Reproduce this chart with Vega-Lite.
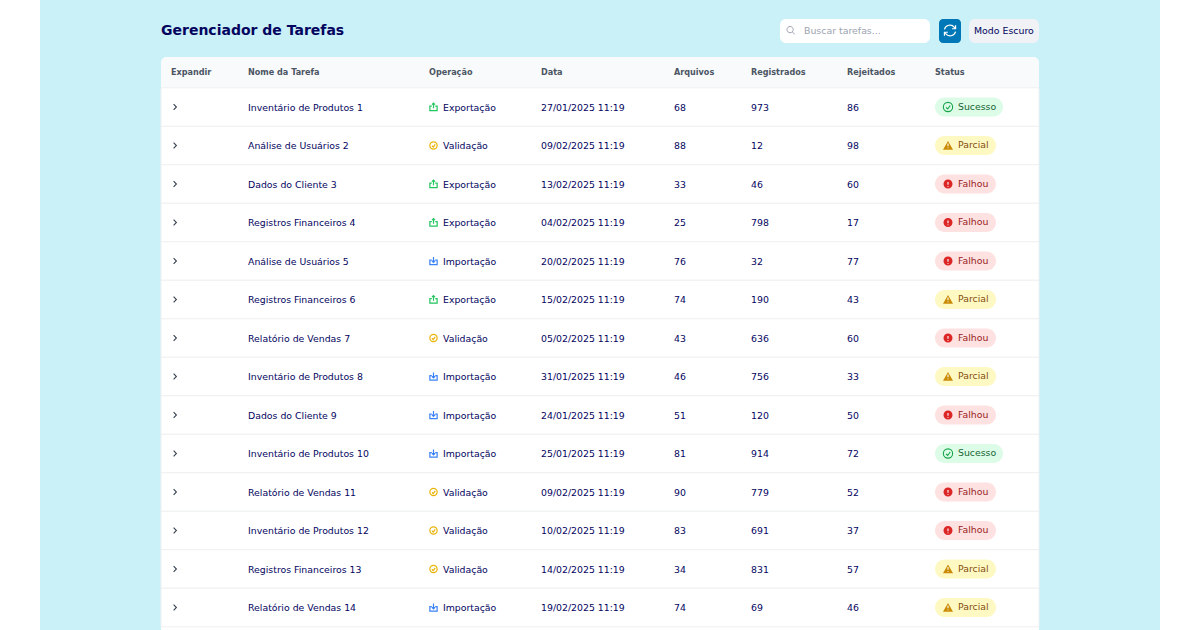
{
"$schema":"https://vega.github.io/schema/vega-lite/v6.json",
"width":1200,"height":630,"autosize":"none","padding":0,"background":"white",
"config":{"view":{"stroke":null},"font":"DejaVu Sans"},
"data":{"values":[
{"linha":0,"coluna":0.1,"texto":"Expandir"},{"linha":0,"coluna":1,"texto":"Nome da Tarefa"},{"linha":0,"coluna":2,"texto":"Operação"},{"linha":0,"coluna":3,"texto":"Data"},{"linha":0,"coluna":4,"texto":"Arquivos"},{"linha":0,"coluna":5,"texto":"Registrados"},{"linha":0,"coluna":6,"texto":"Rejeitados"},{"linha":0,"coluna":7,"texto":"Status"},
{"linha":1,"coluna":0},{"linha":1,"coluna":1,"texto":"Inventário de Produtos 1"},{"linha":1,"coluna":2,"texto":"Exportação"},{"linha":1,"coluna":3,"texto":"27/01/2025 11:19"},{"linha":1,"coluna":4,"texto":"68"},{"linha":1,"coluna":5,"texto":"973"},{"linha":1,"coluna":6,"texto":"86"},{"linha":1,"coluna":7,"texto":"Sucesso"},
{"linha":2,"coluna":0},{"linha":2,"coluna":1,"texto":"Análise de Usuários 2"},{"linha":2,"coluna":2,"texto":"Validação"},{"linha":2,"coluna":3,"texto":"09/02/2025 11:19"},{"linha":2,"coluna":4,"texto":"88"},{"linha":2,"coluna":5,"texto":"12"},{"linha":2,"coluna":6,"texto":"98"},{"linha":2,"coluna":7,"texto":"Parcial"},
{"linha":3,"coluna":0},{"linha":3,"coluna":1,"texto":"Dados do Cliente 3"},{"linha":3,"coluna":2,"texto":"Exportação"},{"linha":3,"coluna":3,"texto":"13/02/2025 11:19"},{"linha":3,"coluna":4,"texto":"33"},{"linha":3,"coluna":5,"texto":"46"},{"linha":3,"coluna":6,"texto":"60"},{"linha":3,"coluna":7,"texto":"Falhou"},
{"linha":4,"coluna":0},{"linha":4,"coluna":1,"texto":"Registros Financeiros 4"},{"linha":4,"coluna":2,"texto":"Exportação"},{"linha":4,"coluna":3,"texto":"04/02/2025 11:19"},{"linha":4,"coluna":4,"texto":"25"},{"linha":4,"coluna":5,"texto":"798"},{"linha":4,"coluna":6,"texto":"17"},{"linha":4,"coluna":7,"texto":"Falhou"},
{"linha":5,"coluna":0},{"linha":5,"coluna":1,"texto":"Análise de Usuários 5"},{"linha":5,"coluna":2,"texto":"Importação"},{"linha":5,"coluna":3,"texto":"20/02/2025 11:19"},{"linha":5,"coluna":4,"texto":"76"},{"linha":5,"coluna":5,"texto":"32"},{"linha":5,"coluna":6,"texto":"77"},{"linha":5,"coluna":7,"texto":"Falhou"},
{"linha":6,"coluna":0},{"linha":6,"coluna":1,"texto":"Registros Financeiros 6"},{"linha":6,"coluna":2,"texto":"Exportação"},{"linha":6,"coluna":3,"texto":"15/02/2025 11:19"},{"linha":6,"coluna":4,"texto":"74"},{"linha":6,"coluna":5,"texto":"190"},{"linha":6,"coluna":6,"texto":"43"},{"linha":6,"coluna":7,"texto":"Parcial"},
{"linha":7,"coluna":0},{"linha":7,"coluna":1,"texto":"Relatório de Vendas 7"},{"linha":7,"coluna":2,"texto":"Validação"},{"linha":7,"coluna":3,"texto":"05/02/2025 11:19"},{"linha":7,"coluna":4,"texto":"43"},{"linha":7,"coluna":5,"texto":"636"},{"linha":7,"coluna":6,"texto":"60"},{"linha":7,"coluna":7,"texto":"Falhou"},
{"linha":8,"coluna":0},{"linha":8,"coluna":1,"texto":"Inventário de Produtos 8"},{"linha":8,"coluna":2,"texto":"Importação"},{"linha":8,"coluna":3,"texto":"31/01/2025 11:19"},{"linha":8,"coluna":4,"texto":"46"},{"linha":8,"coluna":5,"texto":"756"},{"linha":8,"coluna":6,"texto":"33"},{"linha":8,"coluna":7,"texto":"Parcial"},
{"linha":9,"coluna":0},{"linha":9,"coluna":1,"texto":"Dados do Cliente 9"},{"linha":9,"coluna":2,"texto":"Importação"},{"linha":9,"coluna":3,"texto":"24/01/2025 11:19"},{"linha":9,"coluna":4,"texto":"51"},{"linha":9,"coluna":5,"texto":"120"},{"linha":9,"coluna":6,"texto":"50"},{"linha":9,"coluna":7,"texto":"Falhou"},
{"linha":10,"coluna":0},{"linha":10,"coluna":1,"texto":"Inventário de Produtos 10"},{"linha":10,"coluna":2,"texto":"Importação"},{"linha":10,"coluna":3,"texto":"25/01/2025 11:19"},{"linha":10,"coluna":4,"texto":"81"},{"linha":10,"coluna":5,"texto":"914"},{"linha":10,"coluna":6,"texto":"72"},{"linha":10,"coluna":7,"texto":"Sucesso"},
{"linha":11,"coluna":0},{"linha":11,"coluna":1,"texto":"Relatório de Vendas 11"},{"linha":11,"coluna":2,"texto":"Validação"},{"linha":11,"coluna":3,"texto":"09/02/2025 11:19"},{"linha":11,"coluna":4,"texto":"90"},{"linha":11,"coluna":5,"texto":"779"},{"linha":11,"coluna":6,"texto":"52"},{"linha":11,"coluna":7,"texto":"Falhou"},
{"linha":12,"coluna":0},{"linha":12,"coluna":1,"texto":"Inventário de Produtos 12"},{"linha":12,"coluna":2,"texto":"Validação"},{"linha":12,"coluna":3,"texto":"10/02/2025 11:19"},{"linha":12,"coluna":4,"texto":"83"},{"linha":12,"coluna":5,"texto":"691"},{"linha":12,"coluna":6,"texto":"37"},{"linha":12,"coluna":7,"texto":"Falhou"},
{"linha":13,"coluna":0},{"linha":13,"coluna":1,"texto":"Registros Financeiros 13"},{"linha":13,"coluna":2,"texto":"Validação"},{"linha":13,"coluna":3,"texto":"14/02/2025 11:19"},{"linha":13,"coluna":4,"texto":"34"},{"linha":13,"coluna":5,"texto":"831"},{"linha":13,"coluna":6,"texto":"57"},{"linha":13,"coluna":7,"texto":"Parcial"},
{"linha":14,"coluna":0},{"linha":14,"coluna":1,"texto":"Relatório de Vendas 14"},{"linha":14,"coluna":2,"texto":"Importação"},{"linha":14,"coluna":3,"texto":"19/02/2025 11:19"},{"linha":14,"coluna":4,"texto":"74"},{"linha":14,"coluna":5,"texto":"69"},{"linha":14,"coluna":6,"texto":"46"},{"linha":14,"coluna":7,"texto":"Parcial"}
]},
"encoding":{
"x":{"field":"coluna","type":"quantitative","axis":null,"scale":{"zero":false,"nice":false,"domain":[-1,0,0.1,1,2,3,4,5,5.3,6,6.9,7,7.05,7.3,7.4,7.6,7.7,8,9],"range":[40,161,171,248,429,541,674,751,780,847,930,935,939,961,969,996,1003,1039,1160]}},
"y":{"field":"linha","type":"quantitative","axis":null,"scale":{"zero":false,"nice":false,"domain":[-2,-1.5,-1,-0.5,-0.2,0,0.45,1,14,15],"range":[-6,19,30.5,43,57,72,88,107,607.5,646]}}
},
"resolve":{"scale":{"color":"independent","shape":"independent"}},
"layer":[
{"data":{"values":[{"coluna":-1,"linha":-2}]},"mark":{"type":"rect","fill":"#caf0f8"},"encoding":{"x2":{"datum":9},"y2":{"datum":15}}},
{"data":{"values":[{"coluna":0,"linha":-0.2}]},"mark":{"type":"rect","fill":"white","cornerRadiusTopLeft":6,"cornerRadiusTopRight":6},"encoding":{"x2":{"datum":8},"y2":{"datum":15}}},
{"data":{"values":[{"coluna":0,"linha":-0.2}]},"mark":{"type":"rect","fill":"#f9fafb","cornerRadiusTopLeft":6,"cornerRadiusTopRight":6},"encoding":{"x2":{"datum":8},"y2":{"datum":0.45}}},
{"transform":[{"filter":"datum.coluna===0"}],"mark":{"type":"bar","orient":"horizontal","fill":"white","stroke":"#eef0f2","strokeWidth":1,"height":38.5},"encoding":{"x2":{"datum":8}}},
{"data":{"values":[{"coluna":5.3,"linha":-1.5}]},"mark":{"type":"rect","fill":"white","cornerRadius":6},"encoding":{"x2":{"datum":6.9},"y2":{"datum":-0.5}}},
{"data":{"values":[{"coluna":7.05,"linha":-1.5}]},"mark":{"type":"rect","fill":"#0077b6","cornerRadius":4},"encoding":{"x2":{"datum":7.3},"y2":{"datum":-0.5}}},
{"data":{"values":[{"coluna":7.4,"linha":-1.5}]},"mark":{"type":"rect","fill":"#f0f2f5","cornerRadius":6},"encoding":{"x2":{"datum":8},"y2":{"datum":-0.5}}},
{"data":{"values":[{"coluna":5.3,"linha":-1}]},"mark":{"type":"point","filled":false,"xOffset":11,"stroke":"#9ca3af","strokeWidth":1,"size":320,"opacity":1,"shape":"M-0.1,-0.45 A0.35,0.35 0 1,1 -0.1,0.25 A0.35,0.35 0 1,1 -0.1,-0.45 M0.16,0.17 L0.42,0.43"}},
{"data":{"values":[{"coluna":7.05,"linha":-1}]},"mark":{"type":"point","filled":false,"xOffset":11,"stroke":"white","strokeWidth":1.2,"size":860,"opacity":1,"shape":"M-0.38,-0.08 A0.39,0.39 0 0,1 0.3,-0.22 L0.38,-0.12 M0.38,-0.36 L0.38,-0.12 L0.14,-0.12 M0.38,0.08 A0.39,0.39 0 0,1 -0.3,0.22 L-0.38,0.12 M-0.38,0.36 L-0.38,0.12 L-0.14,0.12"}},
{"data":{"values":[{"coluna":5.3,"linha":-1,"texto":"Buscar tarefas..."}]},"mark":{"type":"text","align":"left","baseline":"middle","dx":24,"fontSize":9.4,"fill":"#9ca3af"},"encoding":{"text":{"field":"texto"}}},
{"data":{"values":[{"coluna":7.4,"linha":-1,"texto":"Modo Escuro"}]},"mark":{"type":"text","align":"left","baseline":"middle","dx":5,"fontSize":9.4,"fill":"#03045e"},"encoding":{"text":{"field":"texto"}}},
{"data":{"values":[{"coluna":0,"linha":-1,"texto":"Gerenciador de Tarefas"}]},"mark":{"type":"text","align":"left","baseline":"middle","dy":0.5,"fontSize":14,"fontWeight":"bold","fill":"#03045e"},"encoding":{"text":{"field":"texto"}}},
{"transform":[{"filter":"datum.linha===0"}],"mark":{"type":"text","align":"left","baseline":"middle","dy":0.5,"fontSize":8.1,"fontWeight":"bold","fill":"#4b5563"},"encoding":{"text":{"field":"texto"}}},
{"transform":[{"filter":"datum.coluna===0"}],"mark":{"type":"point","filled":false,"xOffset":14,"stroke":"#374151","strokeWidth":1.1,"size":160,"opacity":1,"shape":"M-0.22,-0.45 L0.22,0 L-0.22,0.45"}},
{"transform":[{"filter":"datum.linha>=1 && (datum.coluna===1 || (datum.coluna>=3 && datum.coluna<=6))"}],"mark":{"type":"text","align":"left","baseline":"middle","dy":0.5,"fontSize":9.35,"fill":"#03045e"},"encoding":{"text":{"field":"texto"}}},
{"transform":[{"filter":"datum.linha>=1 && datum.coluna===2"}],"mark":{"type":"text","align":"left","baseline":"middle","dx":14,"dy":0.5,"fontSize":9.35,"fill":"#03045e"},"encoding":{"text":{"field":"texto"}}},
{"transform":[{"filter":"datum.linha>=1 && datum.coluna===2"}],"mark":{"type":"point","filled":false,"xOffset":4.5,"strokeWidth":1.2,"size":300,"opacity":1},"encoding":{"color":{"field":"texto","type":"nominal","legend":null,"scale":{"domain":["Exportação","Importação","Validação"],"range":["#22c55e","#3b82f6","#eab308"]}},"shape":{"field":"texto","type":"nominal","legend":null,"scale":{"domain":["Exportação","Importação","Validação"],"range":["M-0.2,-0.1 L-0.42,-0.1 L-0.42,0.42 L0.42,0.42 L0.42,-0.1 L0.2,-0.1 M0,0.15 L0,-0.45 M-0.18,-0.27 L0,-0.45 L0.18,-0.27","M-0.2,-0.1 L-0.42,-0.1 L-0.42,0.42 L0.42,0.42 L0.42,-0.1 L0.2,-0.1 M0,-0.45 L0,0.15 M-0.18,-0.03 L0,0.15 L0.18,-0.03","M-0.42,0 A0.42,0.42 0 1,1 0.42,0 A0.42,0.42 0 1,1 -0.42,0 M-0.18,0.03 L-0.03,0.18 L0.2,-0.14"]}}}},
{"transform":[{"filter":"datum.linha>=1 && datum.coluna===7 && datum.texto==='Sucesso'"}],"mark":{"type":"bar","orient":"horizontal","height":19,"cornerRadius":9.5,"fill":"#dcfce7"},"encoding":{"x2":{"datum":7.7}}},
{"transform":[{"filter":"datum.linha>=1 && datum.coluna===7 && datum.texto!=='Sucesso'"}],"mark":{"type":"bar","orient":"horizontal","height":19,"cornerRadius":9.5},"encoding":{"x2":{"datum":7.6},"color":{"field":"texto","type":"nominal","legend":null,"scale":{"domain":["Parcial","Falhou"],"range":["#fef9c3","#fee2e2"]}}}},
{"transform":[{"filter":"datum.linha>=1 && datum.coluna===7 && datum.texto==='Sucesso'"}],"mark":{"type":"point","filled":false,"xOffset":13,"stroke":"#16a34a","strokeWidth":1.1,"size":490,"opacity":1,"shape":"M-0.42,0 A0.42,0.42 0 1,1 0.42,0 A0.42,0.42 0 1,1 -0.42,0 M-0.18,0.03 L-0.03,0.18 L0.2,-0.14"}},
{"transform":[{"filter":"datum.linha>=1 && datum.coluna===7 && datum.texto!=='Sucesso'"}],"mark":{"type":"point","filled":true,"xOffset":13,"size":400,"opacity":1},"encoding":{"color":{"field":"texto","type":"nominal","legend":null,"scale":{"domain":["Parcial","Falhou"],"range":["#ca8a04","#dc2626"]}},"shape":{"field":"texto","type":"nominal","legend":null,"scale":{"domain":["Parcial","Falhou"],"range":["M0,-0.45 L0.5,0.42 L-0.5,0.42 Z","M-0.45,0 A0.45,0.45 0 1,1 0.45,0 A0.45,0.45 0 1,1 -0.45,0 Z"]}}}},
{"transform":[{"filter":"datum.linha>=1 && datum.coluna===7 && datum.texto!=='Sucesso'"}],"mark":{"type":"point","filled":false,"xOffset":13,"stroke":"white","strokeWidth":1.1,"size":400,"opacity":1,"shape":"M0,-0.2 L0,0.08 M0,0.2 L0,0.28"}},
{"transform":[{"filter":"datum.linha>=1 && datum.coluna===7"}],"mark":{"type":"text","align":"left","baseline":"middle","dx":23,"dy":-0.5,"fontSize":9.35},"encoding":{"text":{"field":"texto"},"color":{"field":"texto","type":"nominal","legend":null,"scale":{"domain":["Sucesso","Parcial","Falhou"],"range":["#166534","#854d0e","#991b1b"]}}}}
]
}
